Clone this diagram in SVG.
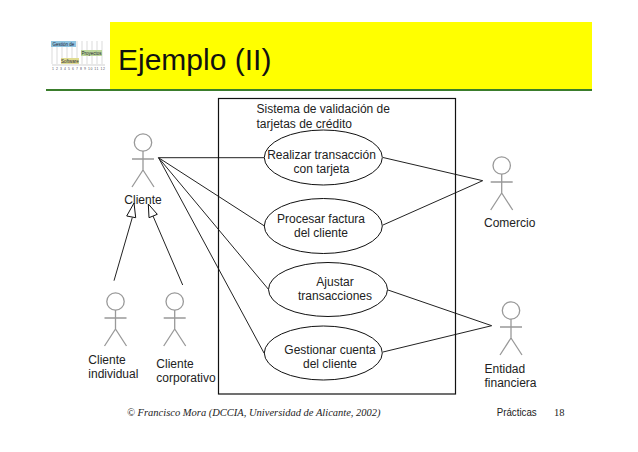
<svg xmlns="http://www.w3.org/2000/svg" width="638" height="452" viewBox="0 0 638 452">
<style>
.t{font-family:"Liberation Sans",Arial,sans-serif;font-size:12px;fill:#222}
.m{text-anchor:middle}
.a{fill:none;stroke:#999;stroke-width:1.3}
.u{fill:#fff;stroke:#111;stroke-width:1}
.c{fill:none;stroke:#222;stroke-width:1}
.s{font-family:"Liberation Serif",serif;fill:#222}
.l{font-family:"Liberation Sans",sans-serif;font-size:4.5px;fill:#223;text-anchor:middle}
</style>
<defs>
<g id="actor"><circle cx="0" cy="-16.500" r="8.700"/><path d="M0-8V11M-11 0H11M0 11L-11 28M0 11L11 28"/></g>
</defs>
<rect width="638" height="452" fill="#fff"/>
<g id="header">
<rect x="110" y="22" width="482" height="67" fill="#ffff00"/>
<rect x="46" y="89" width="546" height="2" fill="#3a7d2c"/>
<text x="118" y="70" font-family="'Liberation Sans',Arial,sans-serif" font-size="30" fill="#111">Ejemplo (II)</text>
</g>
<g id="logo">
<path d="M52 41V64M57 41V64M62 41V64M67 41V64M72 41V64M77 41V64M82 41V64M87 41V64M92 41V64M97 41V64M102 41V64" stroke="#ccc" stroke-width="0.7"/>
<path d="M52 65H105" stroke="#bbb" stroke-width="0.7"/>
<rect x="51" y="41" width="25" height="6" fill="#8fc4e0"/>
<rect x="81" y="50" width="21" height="6" fill="#bcd69a"/>
<rect x="61" y="58" width="18" height="6" fill="#e0dc90"/>
<text class="l" x="63.500" y="46">Gestión de</text>
<text class="l" x="91.500" y="55">Proyectos</text>
<text class="l" x="70" y="63">Software</text>
<text x="52" y="69.500" font-family="'Liberation Sans',sans-serif" font-size="3.500" fill="#556" textLength="53">1 2 3 4 5 6 7 8 9 10 11 12</text>
</g>
<g id="connectors">
<path class="c" d="M158.500 157.700H264M158.500 157.700L264 225.700M158.500 157.700L269 290M158.500 157.700L264 353"/>
<path class="c" d="M383 157.500L482.700 180.700M383 225L482.700 180.700M388 290L491.700 325.700M383 352L491.700 325.700"/>
<path class="c" d="M114 280.700L132.300 217.500M182.700 285L153 216"/>
<path class="u" d="M134 203L126.700 216L135.700 217.700Z"/>
<path class="u" d="M148.300 204L149 217.700L157.300 214.300Z"/>
</g>
<g id="system"><rect x="218.500" y="98.500" width="237" height="295.500" fill="none" stroke="#111" stroke-width="1.200"/>
<text class="t" x="256.500" y="113">Sistema de validación de</text>
<text class="t" x="256.500" y="128">tarjetas de crédito</text></g>
<g id="uc1"><ellipse class="u" cx="323.300" cy="157.500" rx="59" ry="27.500"/><text class="t m" x="321.500" y="159">Realizar transacción</text><text class="t m" x="321.500" y="173">con tarjeta</text></g>
<g id="uc2"><ellipse class="u" cx="323.300" cy="226" rx="59" ry="27.500"/><text class="t m" x="321" y="223">Procesar factura</text><text class="t m" x="321" y="237">del cliente</text></g>
<g id="uc3"><ellipse class="u" cx="328" cy="289.500" rx="59.500" ry="27"/><text class="t m" x="335" y="286">Ajustar</text><text class="t m" x="335" y="300">transacciones</text></g>
<g id="uc4"><ellipse class="u" cx="323.300" cy="353" rx="59" ry="27"/><text class="t m" x="330" y="354">Gestionar cuenta</text><text class="t m" x="330" y="368">del cliente</text></g>
<g id="a-cliente"><use href="#actor" x="143" y="159" class="a"/><text class="t m" x="143" y="204">Cliente</text></g>
<g id="a-individual"><use href="#actor" x="115.500" y="318" class="a"/><text class="t" x="88.300" y="363.500">Cliente</text><text class="t" x="88.300" y="377.500">individual</text></g>
<g id="a-corporativo"><use href="#actor" x="174.700" y="318" class="a"/><text class="t" x="156.300" y="368">Cliente</text><text class="t" x="156.300" y="382">corporativo</text></g>
<g id="a-comercio"><use href="#actor" x="501.700" y="182" class="a"/><text class="t" x="484" y="227">Comercio</text></g>
<g id="a-entidad"><use href="#actor" x="511" y="327" class="a"/><text class="t" x="484.500" y="373">Entidad</text><text class="t" x="484.500" y="387">financiera</text></g>
<g id="footer">
<text class="s" x="127" y="416" font-size="10.500" font-style="italic">© Francisco Mora (DCCIA, Universidad de Alicante, 2002)</text>
<text x="496.700" y="416" font-family="'Liberation Sans',sans-serif" font-size="11" fill="#222" textLength="40" lengthAdjust="spacingAndGlyphs">Prácticas</text>
<text class="s" x="554" y="416" font-size="10.500">18</text>
</g>
</svg>
